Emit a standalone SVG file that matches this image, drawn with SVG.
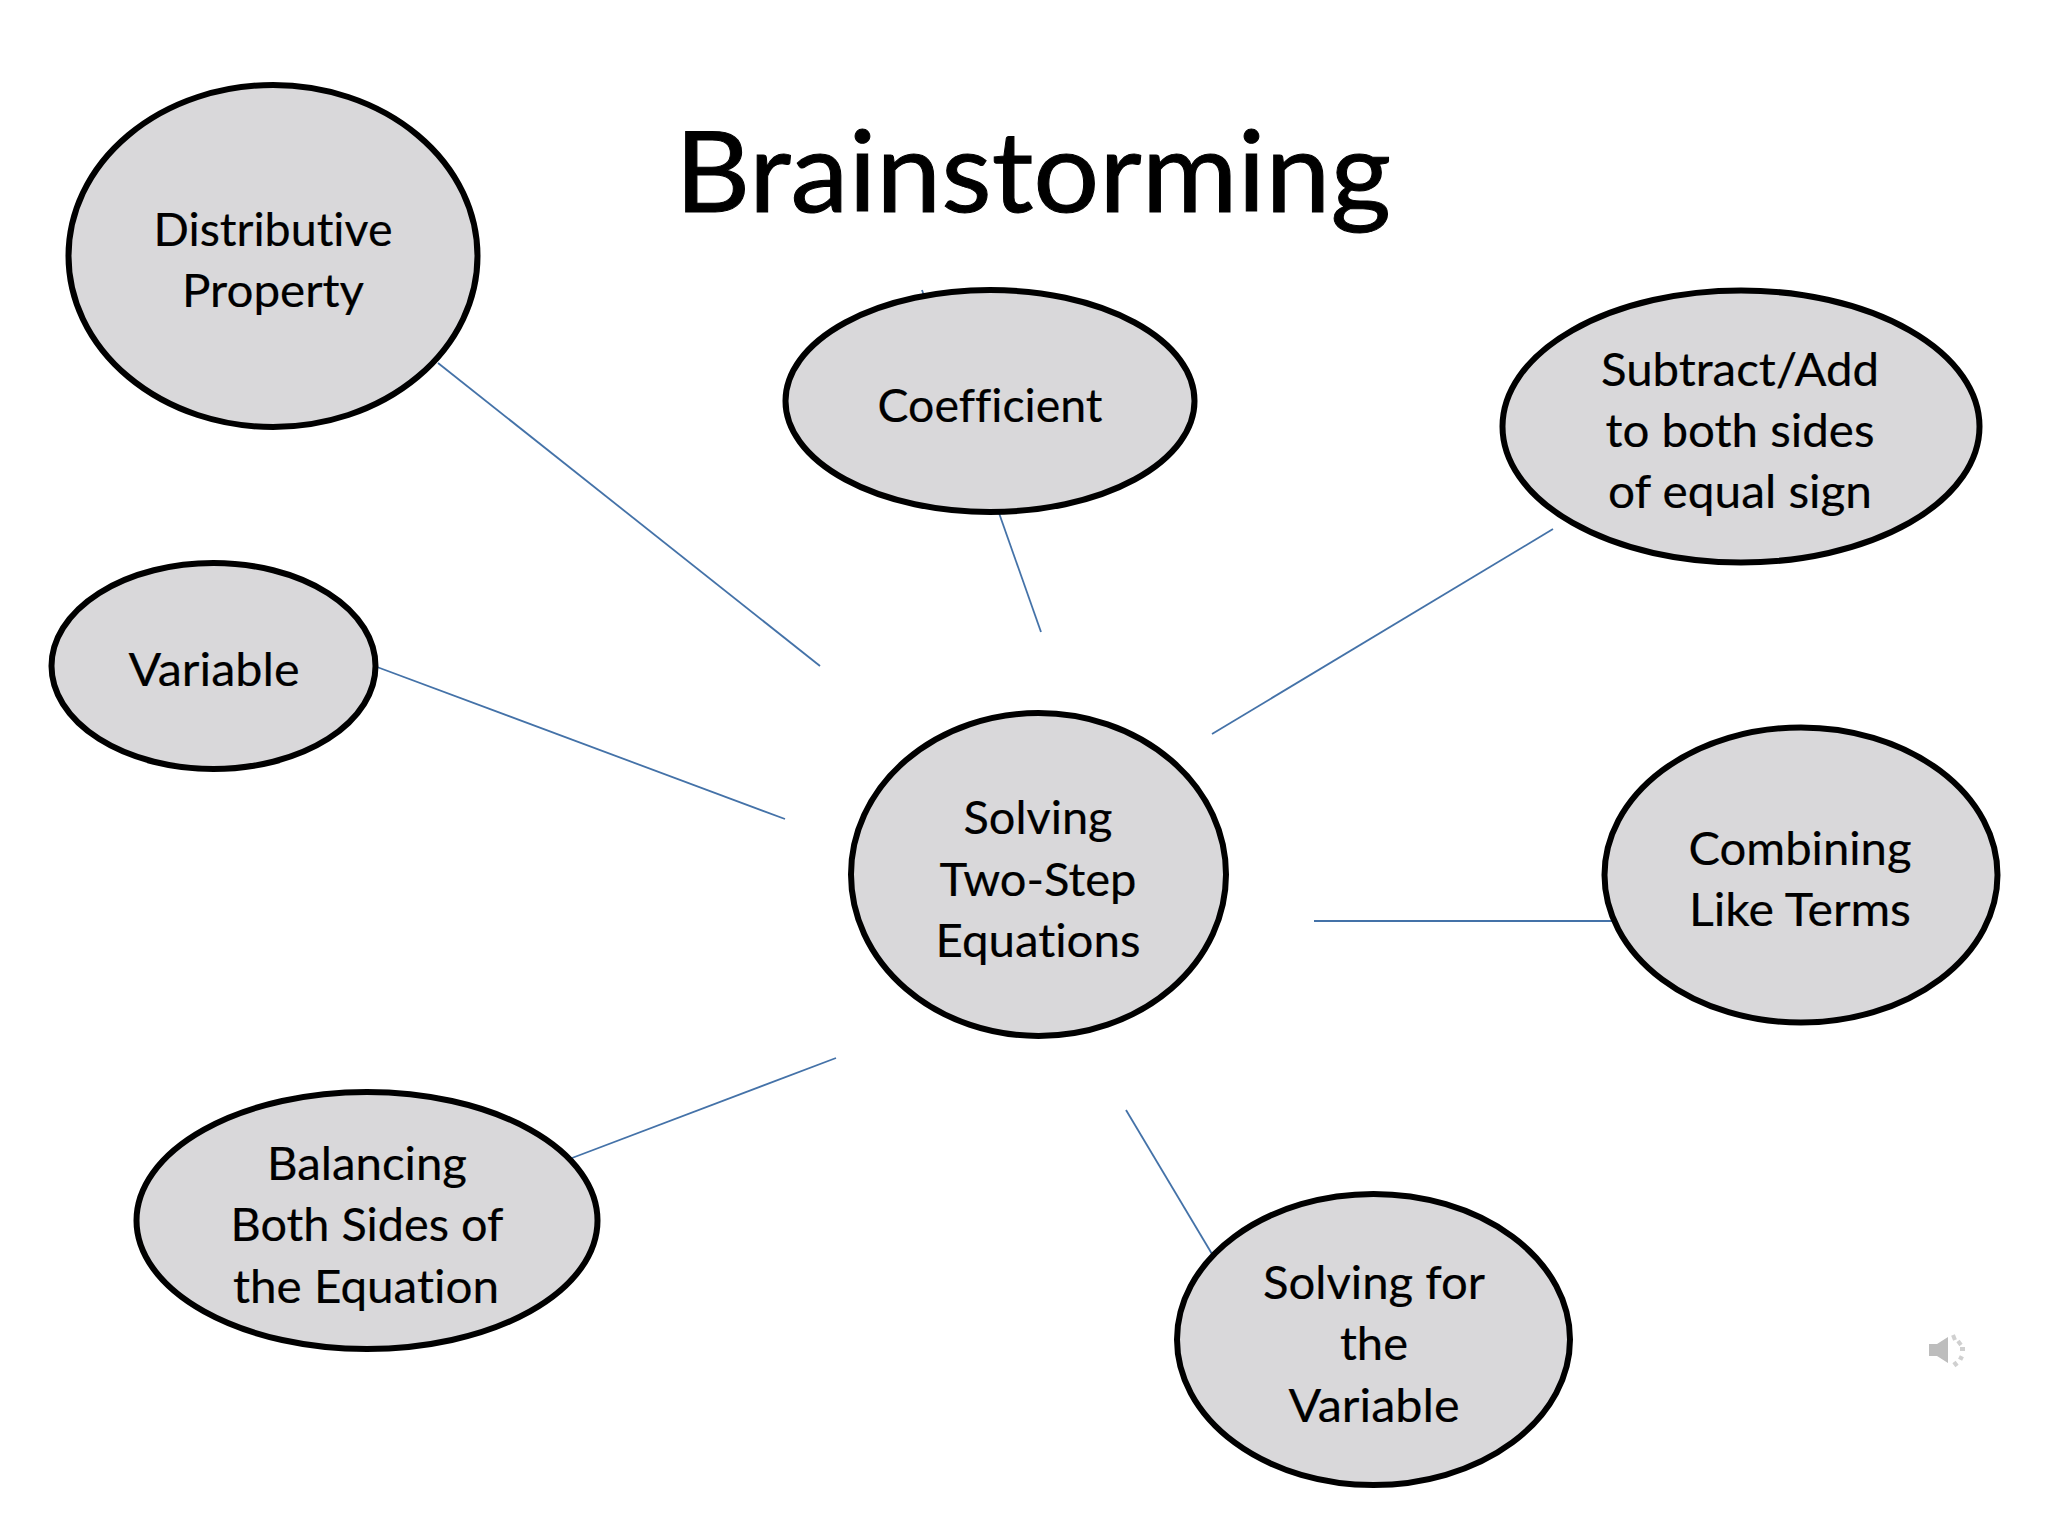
<svg xmlns="http://www.w3.org/2000/svg" width="2048" height="1536" viewBox="0 0 2048 1536">
<style>
.n{fill:#d9d8da;stroke:#000;stroke-width:6}
text{font-family:Lato,"Noto Sans",sans-serif;fill:#000;text-anchor:middle;font-variant-ligatures:none}
.t{font-size:46px;stroke:#000;stroke-width:.2}
.h{font-size:112px;stroke:#000;stroke-width:1}
.c{stroke:#4472a8;stroke-width:1.8;fill:none}
.s{fill:#bdbdbd}
.w{stroke:#d0d0d0;stroke-width:4;fill:none}
</style>
<rect width="2048" height="1536" fill="#fff"/>
<g id="connectors">
<line class="c" x1="438" y1="363" x2="820" y2="666"/>
<line class="c" x1="999" y1="513" x2="1041" y2="632"/>
<line class="c" x1="1553" y1="529" x2="1212" y2="734"/>
<line class="c" x1="377" y1="667" x2="785" y2="819"/>
<line class="c" x1="1314" y1="921" x2="1613" y2="921"/>
<line class="c" x1="836" y1="1058" x2="572" y2="1158"/>
<line class="c" x1="1126" y1="1110" x2="1212" y2="1254"/>
<line class="c" x1="922" y1="290" x2="924" y2="296"/>
</g>
<text id="title" class="h" x="1033" y="212" textLength="716" lengthAdjust="spacingAndGlyphs">Brainstorming</text>
<g id="distributive"><ellipse class="n" cx="273" cy="256" rx="204.5" ry="171"/><text class="t" x="273" y="246" textLength="239" lengthAdjust="spacingAndGlyphs">Distributive</text><text class="t" x="273" y="307" textLength="182" lengthAdjust="spacingAndGlyphs">Property</text></g>
<g id="coefficient"><ellipse class="n" cx="990" cy="401" rx="204.5" ry="111"/><text class="t" x="990" y="422" textLength="225" lengthAdjust="spacingAndGlyphs">Coefficient</text></g>
<g id="subtract"><ellipse class="n" cx="1741" cy="426.5" rx="238.5" ry="136"/><text class="t" x="1740" y="386" textLength="278" lengthAdjust="spacingAndGlyphs">Subtract/Add</text><text class="t" x="1740" y="447" textLength="269" lengthAdjust="spacingAndGlyphs">to both sides</text><text class="t" x="1740" y="508" textLength="264" lengthAdjust="spacingAndGlyphs">of equal sign</text></g>
<g id="variable"><ellipse class="n" cx="213.500" cy="666" rx="162" ry="103"/><text class="t" x="214" y="686" textLength="171" lengthAdjust="spacingAndGlyphs">Variable</text></g>
<g id="center"><ellipse class="n" cx="1038.500" cy="874.500" rx="187.500" ry="161.500"/><text class="t" x="1038" y="834" textLength="149" lengthAdjust="spacingAndGlyphs">Solving</text><text class="t" x="1038" y="896" textLength="197" lengthAdjust="spacingAndGlyphs">Two-Step</text><text class="t" x="1038" y="957" textLength="205" lengthAdjust="spacingAndGlyphs">Equations</text></g>
<g id="combining"><ellipse class="n" cx="1801" cy="875" rx="196.500" ry="147.500"/><text class="t" x="1800" y="865" textLength="223" lengthAdjust="spacingAndGlyphs">Combining</text><text class="t" x="1800" y="926" textLength="222" lengthAdjust="spacingAndGlyphs">Like Terms</text></g>
<g id="balancing"><ellipse class="n" cx="367" cy="1220.500" rx="230.500" ry="128.500"/><text class="t" x="367" y="1180" textLength="200" lengthAdjust="spacingAndGlyphs">Balancing</text><text class="t" x="367" y="1241" textLength="273" lengthAdjust="spacingAndGlyphs">Both Sides of</text><text class="t" x="366" y="1303" textLength="266" lengthAdjust="spacingAndGlyphs">the Equation</text></g>
<g id="solving-for"><ellipse class="n" cx="1373.500" cy="1339.500" rx="196.500" ry="145.500"/><text class="t" x="1374" y="1299" textLength="222" lengthAdjust="spacingAndGlyphs">Solving for</text><text class="t" x="1374" y="1360" textLength="68" lengthAdjust="spacingAndGlyphs">the</text><text class="t" x="1374" y="1422" textLength="171" lengthAdjust="spacingAndGlyphs">Variable</text></g>
<g id="speaker"><polygon class="s" points="1929,1344 1937,1344 1948,1337 1948,1363 1937,1356 1929,1356"/>
<path class="w" d="M1953,1335l2,5M1958,1341l3,4M1960,1349l5,0M1959,1357l4,2M1954,1362l3,4"/></g>
</svg>
